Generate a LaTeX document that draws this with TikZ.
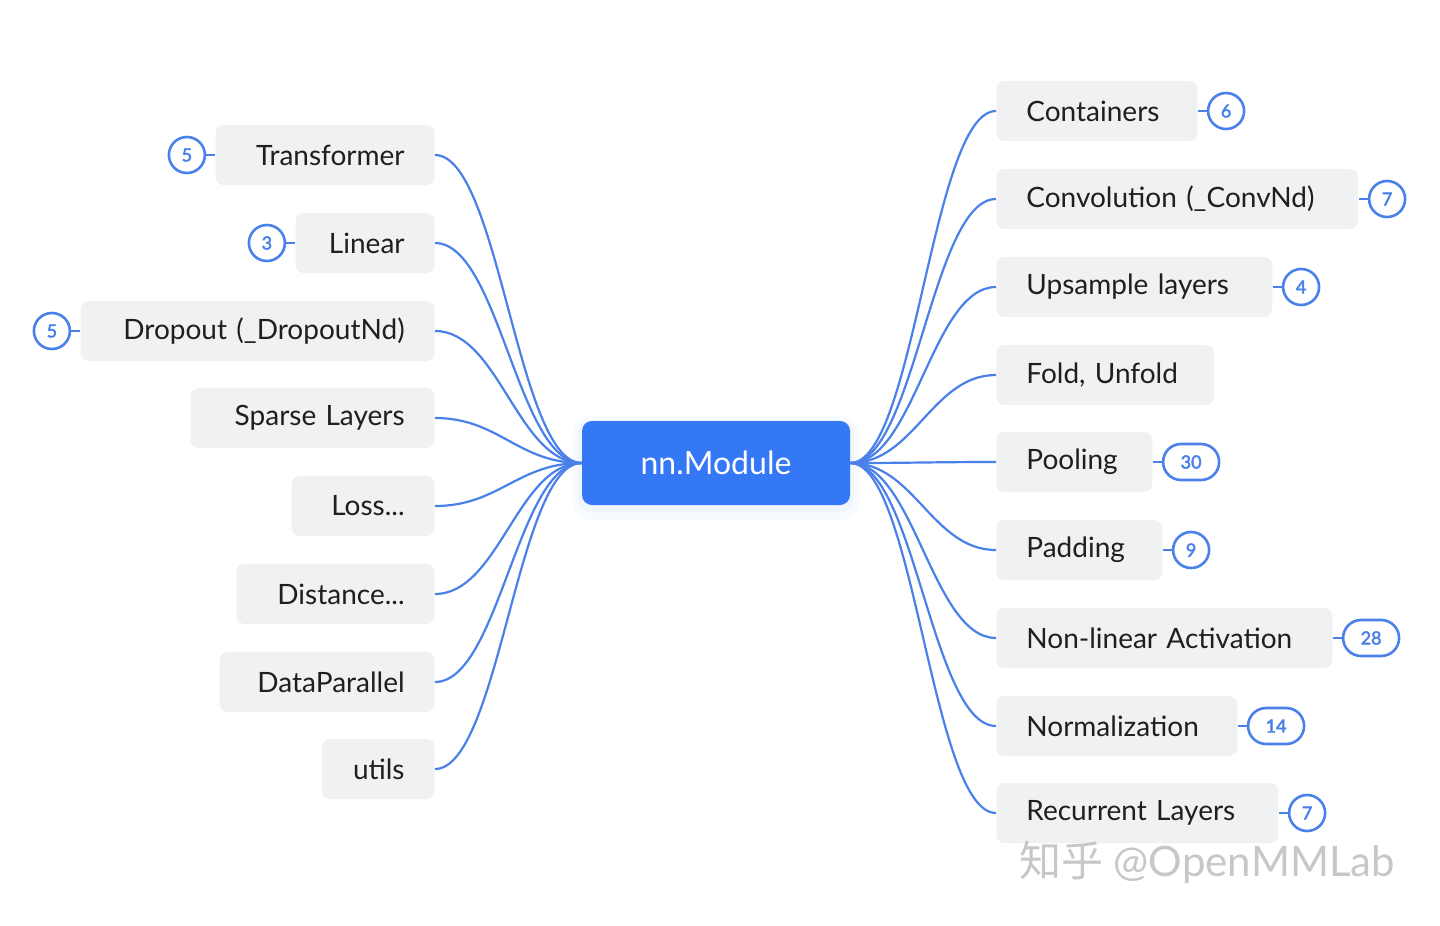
\documentclass[tikz,border=0pt]{standalone}
\usepackage{fontspec}
\setmainfont{Lato}
\newfontfamily\cjk{Noto Sans CJK SC}
\newfontfamily\badgefont{Lato}[FakeBold=2.5]
\definecolor{mblue}{HTML}{3578F6}
\definecolor{lblue}{HTML}{4A80EA}
\definecolor{boxg}{HTML}{F0F1F3}
\begin{document}
\begin{tikzpicture}[x=0.5pt,y=-0.5pt,
  item/.style={fill=boxg,rounded corners=4pt,minimum height=30pt,font=\fontsize{14}{16}\selectfont,inner xsep=15pt,text=black!88},
  badge/.style={draw=lblue,line width=1.3pt,rounded corners=9pt,minimum height=18pt,minimum width=18pt,inner sep=0pt,font=\fontsize{9}{10}\selectfont\badgefont,text=lblue},
  link/.style={draw=lblue,line width=1.1pt},
  blink/.style={draw=lblue,line width=1.2pt}]
\useasboundingbox (0,0) rectangle (1440,926);
\node[fill=mblue!4,rounded corners=10pt,minimum width=144pt,minimum height=52pt] (sh2) at (716,468) {};
\node[fill=mblue!7,rounded corners=7pt,minimum width=138pt,minimum height=46pt] (sh) at (716,466) {};
\node[fill=mblue,rounded corners=5pt,minimum width=134pt,minimum height=42pt,text=white,font=\fontsize{16}{19}\selectfont] (c) at (716,463) {nn.Module};
% right
\foreach \n/\y/\r/\t in {r1/111/1197/Containers,r2/199/1358/{Convolution (\_ConvNd)},r3/287/1272/{Upsample layers},r4/375/1214/{Fold, Unfold},r5/462/1152/Pooling,r6/550/1162/Padding,r7/638/1332/{Non-linear Activation},r8/726/1237/Normalization,r9/813/1278/{Recurrent Layers}}{
  \pgfmathsetmacro\w{(\r-996)*0.5-30}
  \node[item,anchor=west,text width=\w pt,align=left] (\n) at (996,\y) {\t};
  \draw[link] (c.east) .. controls +(32pt,0) and +(-32pt,0) .. (\n.west);
}
% left
\foreach \n/\y/\l/\t in {l1/155/216/Transformer,l2/243/296/Linear,l3/331/81/{Dropout (\_DropoutNd)},l4/418/191/{Sparse Layers},l5/506/292/{Loss{.}{.}{.}},l6/594/237/{Distance{.}{.}{.}},l7/682/220/DataParallel,l8/769/322/utils}{
  \pgfmathsetmacro\w{(435-\l)*0.5-30}
  \node[item,anchor=east,text width=\w pt,align=right] (\n) at (435,\y) {\t};
  \draw[link] (c.west) .. controls +(-32pt,0) and +(32pt,0) .. (\n.east);
}
% right badges
\foreach \n/\t/\bw in {r1/6/18,r2/7/18,r3/4/18,r5/30/28,r6/9/18,r7/28/28,r8/14/28,r9/7/18}{
  \node[badge,anchor=west,minimum width=\bw pt] (b\n) at ([xshift=4.5pt]\n.east) {\t};
  \draw[blink] (\n.east) -- (b\n.west);
}
\foreach \n/\t in {l1/5,l2/3,l3/5}{
  \node[badge,anchor=east] (b\n) at ([xshift=-4.5pt]\n.west) {\t};
  \draw[blink] (\n.west) -- (b\n.east);
}
\node[anchor=west,text=black!22,font=\fontsize{21}{24}\selectfont] (wm) at (1012,862) {{\cjk 知乎} @OpenMMLab};
\end{tikzpicture}
\end{document}
